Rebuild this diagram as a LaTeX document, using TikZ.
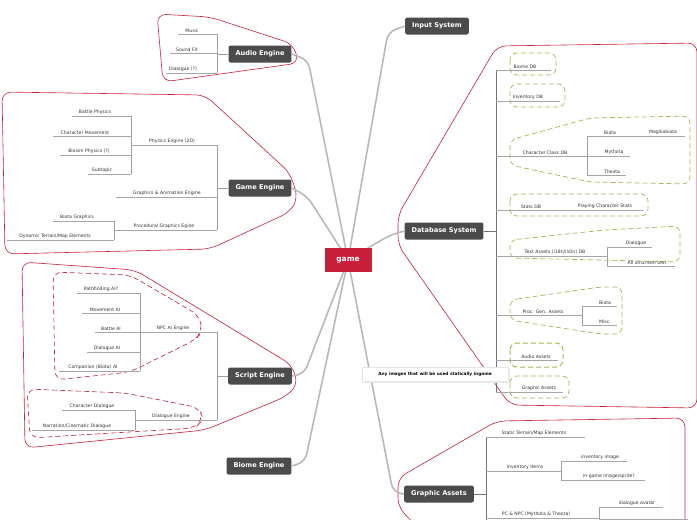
\documentclass[tikz,border=0pt]{standalone}
\usepackage{fontspec}
\setmainfont{DejaVu Sans}
\begin{document}
\begin{tikzpicture}[x=1pt,y=-1pt,
  topic/.style={fill=topicgray,text=white,font=\bfseries\fontsize{6.6}{7}\selectfont,rounded corners=2pt,minimum height=17pt,inner xsep=7pt,inner ysep=0pt},
  leafline/.style={draw=gray!70,line width=0.7pt},
  bracket/.style={draw=gray!75,line width=0.7pt},
  leaftext/.style={font=\fontsize{4.6}{5}\selectfont,text=black!80,inner sep=1.3pt},
  trunk/.style={draw=gray!55,line width=1.6pt,rounded corners=8pt},
  blob/.style={draw=mred,line width=0.6pt,rounded corners=9pt},
  dblob/.style={draw=mred,line width=0.6pt,rounded corners=9pt,dash pattern=on 5pt off 3pt},
  gblob/.style={draw=mgreen,line width=0.7pt,rounded corners=7pt,dash pattern=on 5pt off 3pt}]
\definecolor{topicgray}{HTML}{4B4B4B}
\definecolor{mred}{HTML}{C8203A}
\definecolor{mgreen}{HTML}{9DBB55}
\newcommand\leaf[6]{\draw[leafline] (#2,#4) -- (#3,#4); \node[leaftext,anchor=south] (#1) at (#5,#4) {#6};}
\useasboundingbox (0,0) rectangle (697,520);
\fill[white] (0,0) rectangle (697,520);

% blobs
\draw[blob] (157,14) -- (210,17) -- (293,44) -- (299,63) -- (163,82) -- cycle;
\draw[blob] (2,92) -- (205,95) -- (290,173) -- (298,198) -- (290,212) -- (210,249) -- (5,254) -- cycle;
\draw[blob] (22,262) -- (135,270) -- (292,365) -- (298,385) -- (285,397) -- (205,430) -- (25,448) -- cycle;
\draw[dblob] (53,272) -- (130,275) -- (200,316) -- (202,332) -- (195,340) -- (130,372) -- (55,380) -- cycle;
\draw[dblob] (27,389) -- (125,393) -- (200,408) -- (203,420) -- (195,428) -- (30,438) -- cycle;
\draw[blob] (398,215) -- (497,46) -- (697,43) -- (697,408) -- (510,405) -- (398,245) -- cycle;
\draw[blob] (420,530) -- (398,507) -- (398,478) -- (497,421) -- (685,418) -- (685,530);
\draw[gblob] (510,53) rectangle (556,75);
\draw[gblob] (510,84) rectangle (565,107);
\draw[gblob] (510,140) -- (590,118) -- (690,116) -- (690,184) -- (590,182) -- (510,165) -- cycle;
\draw[gblob] (510,194) rectangle (648,216);
\draw[gblob] (510,240) -- (605,230) -- (680,226) -- (680,262) -- (600,260) -- (510,258) -- cycle;
\draw[gblob] (510,300) -- (600,287) -- (622,287) -- (622,334) -- (600,334) -- (510,320) -- cycle;
\draw[gblob,line width=1pt] (510,343) rectangle (563,367);
\draw[gblob] (510,376) rectangle (569,398);

% central and topics
\node[fill=mred,text=white,font=\bfseries\fontsize{7.5}{8}\selectfont,minimum width=47pt,minimum height=24pt,inner sep=0pt] (game) at (348,260) {game};
\node[topic] (input) at (437,26) {Input System};
\node[topic] (audio) at (260,54) {Audio Engine};
\node[topic] (gengine) at (260,188) {Game Engine};
\node[topic] (db) at (444,231) {Database System};
\node[topic] (script) at (260,376) {Script Engine};
\node[topic] (biome) at (259,466) {Biome Engine};
\node[topic] (gassets) at (439,494) {Graphic Assets};

\begin{scope}[on background layer/.style={}]
\draw[trunk] (game.center) -- (388,32) -- (input.west);
\draw[trunk] (game.center) -- (308,60) -- (audio.east);
\draw[trunk] (game.center) -- (307,196) -- (gengine.east);
\draw[trunk] (game.center) -- (390,235) -- (db.west);
\draw[trunk] (game.center) -- (304,374) -- (script.east);
\draw[trunk] (game.center) -- (305,462) -- (biome.east);
\draw[trunk] (game.center) -- (393,492) -- (gassets.west);
\end{scope}
\node[fill=mred,text=white,font=\bfseries\fontsize{7.5}{8}\selectfont,minimum width=47pt,minimum height=24pt,inner sep=0pt] at (348,260) {game};

% Audio
\leaf{music}{178}{217}{34}{192}{Music}
\leaf{sfx}{170}{217}{53}{187}{Sound FX}
\leaf{dlg}{166}{217}{73}{183}{Dialogue (?)}
\draw[bracket] (217,34) -- (217,73);
\draw[bracket,line width=1pt] (217,54) -- (audio.west);

% Game engine
\leaf{bphys}{72}{131}{116}{95}{Battle Physics}
\leaf{cmove}{53}{131}{136}{85}{Character Movement}
\leaf{biosim}{60}{131}{155}{89}{Biosim Physics (?)}
\leaf{subt}{88}{131}{174}{102}{Subtopic}
\draw[bracket] (131,116) -- (131,174);
\leaf{phys}{131}{217}{145}{172}{Physics Engine (2D)}
\leaf{gfx}{116}{217}{197}{167}{Graphics \& Animation Engine}
\leaf{proc}{114}{217}{230}{164}{Procedural Graphics Egine}
\leaf{biotag}{53}{114}{221}{77}{Biota Graphics}
\leaf{dyn}{7}{114}{240}{55}{Dynamic Terrain/Map Elements}
\draw[bracket] (114,221) -- (114,240);
\draw[bracket] (217,145) -- (217,230);
\draw[bracket,line width=1pt] (217,188) -- (gengine.west);

% Script engine
\leaf{path}{77}{140}{293}{101}{Pathfinding AI?}
\leaf{move}{82}{140}{313}{105}{Movement AI}
\leaf{battle}{95}{140}{332}{111}{Battle AI}
\leaf{dai}{87}{140}{352}{107}{Dialogue AI}
\leaf{comp}{59}{140}{371}{93}{Companion (Biota) AI}
\draw[bracket] (140,293) -- (140,371);
\leaf{npc}{140}{217}{332}{173}{NPC AI Engine}
\leaf{cdlg}{62}{135}{410}{92}{Character Dialogue}
\leaf{narr}{32}{135}{430}{77}{Narration/Cinematic Dialogue}
\draw[bracket] (135,410) -- (135,430);
\leaf{deng}{135}{217}{420}{171}{Dialogue Engine}
\draw[bracket] (217,332) -- (217,420);
\draw[bracket,line width=1pt] (217,376) -- (script.west);

% Database
\draw[bracket,draw=gray!90!black] (496,70) -- (496,392);
\draw[bracket,line width=1pt,draw=gray!90!black] (db.east) -- (496,231);
\leaf{biomedb}{496}{551}{70}{525}{Biome DB}
\leaf{invdb}{496}{560}{101}{528}{Inventory DB}
\leaf{ccdb}{496}{578}{156}{545}{Character Class DB}
\draw[bracket] (578,156) -- (587,156) (587,136) -- (587,175);
\leaf{biota}{587}{620}{136}{610}{Biota}
\leaf{magi}{620}{685}{136}{663}{Magikobiota}
\leaf{myth}{587}{630}{156}{614}{Mythota}
\leaf{theo}{587}{626}{175}{612}{Theota}
\leaf{stats}{496}{643}{210}{531}{Stats DB}
\node[leaftext,anchor=south] (pcs) at (605,210) {Playing Character Stats};
\leaf{text}{496}{607}{256}{555}{Text Assets (i18n/l10n) DB}
\draw[bracket] (607,247) -- (607,266);
\leaf{tdlg}{607}{652}{247}{636}{Dialogue}
\leaf{aot}{607}{675}{266}{647}{All onscreen text}
\leaf{pga}{496}{582}{315}{543}{Proc. Gen. Assets}
\draw[bracket] (582,306) -- (582,325);
\leaf{pbiota}{582}{617}{306}{605}{Biota}
\leaf{misc}{582}{617}{325}{605}{Misc.}
\leaf{aa}{496}{558}{360}{536}{Audio Assets}
\leaf{ga}{496}{563}{392}{539}{Graphic Assets}

% note
\fill[black!8] (363,368) rectangle (510,383);
\node[fill=white,draw=black!10,font=\bfseries\fontsize{4.3}{5}\selectfont,minimum width=146pt,minimum height=14pt,inner sep=0pt] (note) at (435,374.5) {Any images that will be used statically ingame};

% Graphic assets
\draw[bracket,draw=gray!90!black] (486,437) -- (486,525);
\draw[bracket,line width=1pt,draw=gray!90!black] (gassets.east) -- (486,494);
\leaf{stat}{486}{585}{437}{534}{Static Terrain/Map Elements}
\leaf{inv}{486}{561}{471}{525}{Inventory Items}
\draw[bracket] (561,461) -- (561,480);
\leaf{invimg}{561}{627}{461}{600}{inventory image}
\leaf{igimg}{561}{645}{480}{609}{in-game image/sprite?}
\leaf{pcnpc}{486}{599}{518}{536}{PC \& NPC (Mythota \& Theota)}
\draw[bracket] (599,507) -- (599,525);
\leaf{avatar}{599}{663}{507}{637}{dialogue avatar}
\draw[leafline] (599,519) -- (688,519);
\end{tikzpicture}
\end{document}
